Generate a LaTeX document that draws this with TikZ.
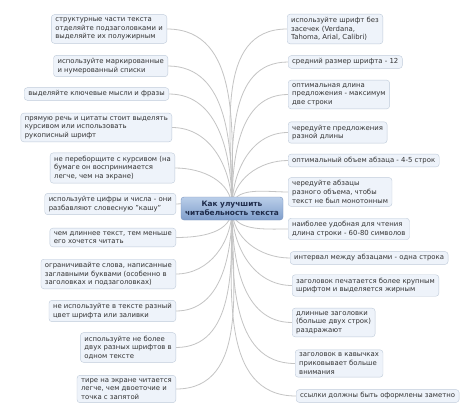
\documentclass[tikz,border=0pt]{standalone}
\usepackage{fontspec}
\setmainfont{DejaVu Sans}
\usetikzlibrary{backgrounds}

\definecolor{boxfill}{HTML}{EEF3FA}
\definecolor{boxline}{HTML}{BFCBDA}
\definecolor{linkgray}{HTML}{C4C4C4}
\definecolor{hubtop}{HTML}{BACEE9}
\definecolor{hubbot}{HTML}{7F9ECB}
\definecolor{hubline}{HTML}{7B95BF}
\definecolor{hubtext}{HTML}{1E2B4A}
\definecolor{tiptext}{HTML}{333333}

\tikzset{
  tip/.style={draw=boxline, fill=boxfill, rounded corners=3pt, align=left,
    inner xsep=4pt, inner ysep=3pt, text=tiptext,
    font=\fontsize{6.9}{8.7}\selectfont},
  hub/.style={draw=hubline, top color=hubtop, bottom color=hubbot,
    rounded corners=3pt, align=center, text=hubtext,
    minimum width=102pt, minimum height=23pt,
    font=\fontsize{7.4}{8.8}\selectfont\bfseries},
  link/.style={draw=linkgray, line width=0.8pt}
}

\begin{document}
\begin{tikzpicture}[x=1pt,y=-1pt]
  \useasboundingbox (0,0) rectangle (474,418);

  % centre
  \node[hub] (hub) at (232,208.5) {Как улучшить\\читабельность текста};

  % left side
  \node[tip, anchor=east] (l1) at (167,29) {структурные части текста\\отделяйте подзаголовками и\\выделяйте их полужирным};
  \node[tip, anchor=east] (l2) at (168,66) {используйте маркированные\\и нумерованный списки};
  \node[tip, anchor=east] (l3) at (169,94) {выделяйте ключевые мысли и фразы};
  \node[tip, anchor=east] (l4) at (172,127.5) {прямую речь и цитаты стоит выделять\\курсивом или использовать\\рукописный шрифт};
  \node[tip, anchor=east] (l5) at (175,168) {не переборщите с курсивом (на\\бумаге он воспринимается\\легче, чем на экране)};
  \node[tip, anchor=east] (l6) at (176,204) {используйте цифры и числа - они\\разбавляют словесную "кашу"};
  \node[tip, anchor=east] (l7) at (176,237.5) {чем длиннее текст, тем меньше\\его хочется читать};
  \node[tip, anchor=east] (l8) at (176,274) {ограничивайте слова, написанные\\заглавными буквами (особенно в\\заголовках и подзаголовках)};
  \node[tip, anchor=east] (l9) at (176,311) {не используйте в тексте разный\\цвет шрифта или заливки};
  \node[tip, anchor=east] (l10) at (176,347.5) {используйте не более\\двух разных шрифтов в\\одном тексте};
  \node[tip, anchor=east] (l11) at (176,389) {тире на экране читается\\легче, чем двоеточие и\\точка с запятой};

  % right side
  \node[tip, anchor=west] (r1) at (287,29) {используйте шрифт без\\засечек (Verdana,\\Tahoma, Arial, Calibri)};
  \node[tip, anchor=west] (r2) at (288,62) {средний размер шрифта - 12};
  \node[tip, anchor=west] (r3) at (288,94.5) {оптимальная длина\\предложения - максимум\\две строки};
  \node[tip, anchor=west] (r4) at (288,132.5) {чередуйте предложения\\разной длины};
  \node[tip, anchor=west] (r5) at (288,160.5) {оптимальный объем абзаца - 4-5 строк};
  \node[tip, anchor=west] (r6) at (288,192) {чередуйте абзацы\\разного объема, чтобы\\текст не был монотонным};
  \node[tip, anchor=west] (r7) at (288,229) {наиболее удобная для чтения\\длина строки - 60-80 символов};
  \node[tip, anchor=west] (r8) at (290,258) {интервал между абзацами - одна строка};
  \node[tip, anchor=west] (r9) at (292,285.5) {заголовок печатается более крупным\\шрифтом и выделяется жирным};
  \node[tip, anchor=west] (r10) at (292,322.5) {длинные заголовки\\(больше двух строк)\\раздражают};
  \node[tip, anchor=west] (r11) at (295,363.5) {заголовок в кавычках\\приковывает больше\\внимания};
  \node[tip, anchor=west] (r12) at (296,396) {ссылки должны быть оформлены заметно};

  % links, under the boxes
  \begin{scope}[on background layer]
    \fill[white] (0,0) rectangle (474,418);
    \draw[link] (hub.center) to[out=90,in=0] (l1.east);
    \draw[link] (hub.center) to[out=90,in=0] (l2.east);
    \draw[link] (hub.center) to[out=90,in=0] (l3.east);
    \draw[link] (hub.center) to[out=90,in=0] (l4.east);
    \draw[link] (hub.center) to[out=90,in=0] (l5.east);
    \draw[link] (hub.center) to[out=90,in=0] (l6.east);
    \draw[link] (hub.center) to[out=-90,in=0] (l7.east);
    \draw[link] (hub.center) to[out=-90,in=0] (l8.east);
    \draw[link] (hub.center) to[out=-90,in=0] (l9.east);
    \draw[link] (hub.center) to[out=-90,in=0] (l10.east);
    \draw[link] (hub.center) to[out=-90,in=0] (l11.east);
    \draw[link] (hub.center) to[out=90,in=180] (r1.west);
    \draw[link] (hub.center) to[out=90,in=180] (r2.west);
    \draw[link] (hub.center) to[out=90,in=180] (r3.west);
    \draw[link] (hub.center) to[out=90,in=180] (r4.west);
    \draw[link] (hub.center) to[out=90,in=180] (r5.west);
    \draw[link] (hub.center) to[out=90,in=180] (r6.west);
    \draw[link] (hub.center) to[out=-90,in=180] (r7.west);
    \draw[link] (hub.center) to[out=-90,in=180] (r8.west);
    \draw[link] (hub.center) to[out=-90,in=180] (r9.west);
    \draw[link] (hub.center) to[out=-90,in=180] (r10.west);
    \draw[link] (hub.center) to[out=-90,in=180] (r11.west);
    \draw[link] (hub.center) to[out=-90,in=180] (r12.west);
  \end{scope}
\end{tikzpicture}
\end{document}
